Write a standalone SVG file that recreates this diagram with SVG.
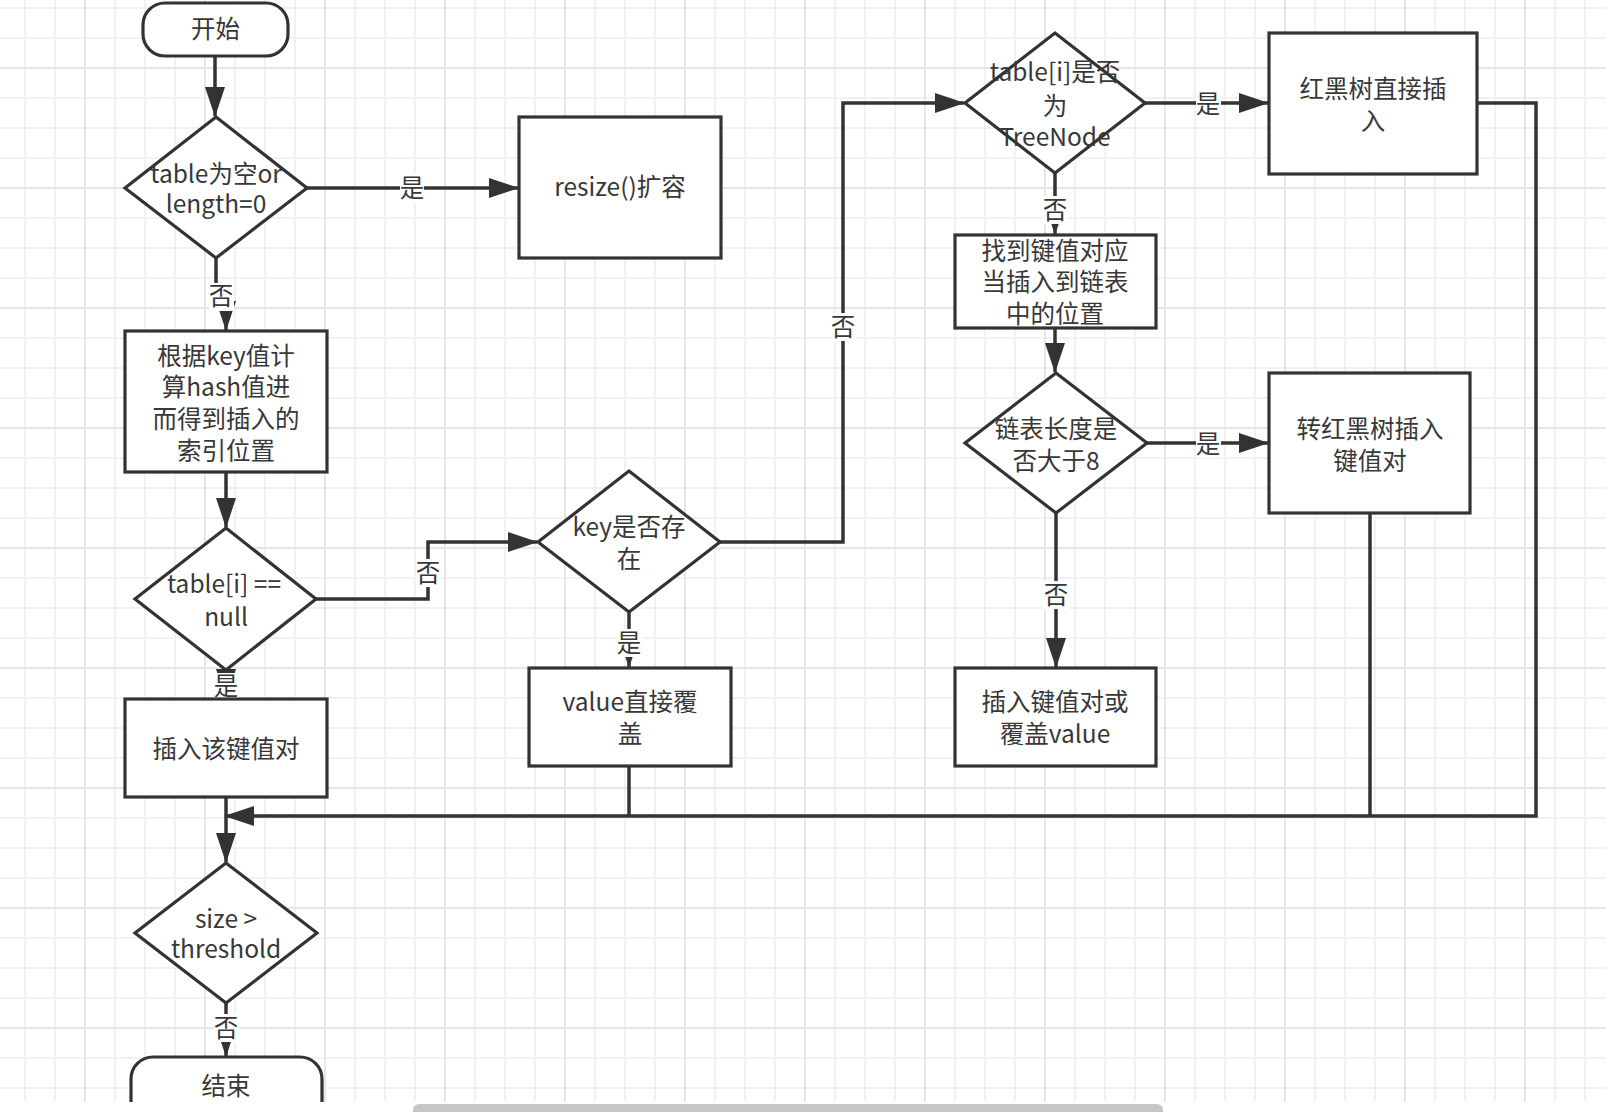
<svg xmlns="http://www.w3.org/2000/svg" width="1606" height="1112" viewBox="0 0 1606 1112">
<style>
.shape{fill:#ffffff;stroke:#333333;stroke-width:3.2;stroke-linejoin:miter}
.conn{fill:none;stroke:#333333;stroke-width:3.5}
.t{font-family:"Noto Sans CJK SC","Noto Sans",sans-serif;font-size:24.5px;fill:#383838;text-anchor:middle;dominant-baseline:central}
.lbg{fill:#ffffff}
</style>
<defs>
<pattern id="gs" patternUnits="userSpaceOnUse" x="10" y="-7" width="30" height="30">
<path d="M15 0V30M0 15H30" stroke="#f1f1f1" stroke-width="2" fill="none"/>
</pattern>
<pattern id="gl" patternUnits="userSpaceOnUse" x="25" y="8" width="120" height="120">
<path d="M60 0V120M0 60H120" stroke="#e6e6e6" stroke-width="2" fill="none"/>
</pattern>
<marker id="ah" markerUnits="userSpaceOnUse" markerWidth="30" markerHeight="22" refX="29" refY="11" orient="auto">
<path d="M0,1 L30,11 L0,21 z" fill="#333333"/>
</marker>
</defs>
<rect x="0" y="0" width="1606" height="1112" fill="#ffffff"/>
<rect x="0" y="0" width="1606" height="1102" fill="url(#gs)"/>
<rect x="0" y="0" width="1606" height="1102" fill="url(#gl)"/>

<g id="connectors">
<path class="conn" d="M215 56V116" marker-end="url(#ah)"/>
<path class="conn" d="M307 188H518" marker-end="url(#ah)"/>
<path class="conn" d="M216 258V297H226V330" marker-end="url(#ah)"/>
<path class="conn" d="M226 472V527" marker-end="url(#ah)"/>
<path class="conn" d="M316 599H428V542H537" marker-end="url(#ah)"/>
<path class="conn" d="M629 612V667" marker-end="url(#ah)"/>
<path class="conn" d="M720 542H843V103H964" marker-end="url(#ah)"/>
<path class="conn" d="M1055 173V234" marker-end="url(#ah)"/>
<path class="conn" d="M1055 328V372" marker-end="url(#ah)"/>
<path class="conn" d="M1056 513V667" marker-end="url(#ah)"/>
<path class="conn" d="M1145 103H1268" marker-end="url(#ah)"/>
<path class="conn" d="M1147 443H1268" marker-end="url(#ah)"/>
<path class="conn" d="M226 670V698" marker-end="url(#ah)"/>
<path class="conn" d="M226 797V862" marker-end="url(#ah)"/>
<path class="conn" d="M629 766V816"/>
<path class="conn" d="M1370 513V816"/>
<path class="conn" d="M1477 103H1536V816H225" marker-end="url(#ah)"/>
<path class="conn" d="M226 1003V1056" marker-end="url(#ah)"/>
<g id="labels">
<rect class="lbg" x="400" y="174" width="24" height="28"/><text class="t" x="412" y="186">是</text>
<rect class="lbg" x="209" y="283" width="25" height="28"/><text class="t" x="221" y="294">否</text>
<rect class="lbg" x="416" y="559" width="25" height="28"/><text class="t" x="428" y="571">否</text>
<rect class="lbg" x="617" y="629" width="25" height="28"/><text class="t" x="629" y="641">是</text>
<rect class="lbg" x="831" y="313" width="25" height="28"/><text class="t" x="843" y="325">否</text>
<rect class="lbg" x="1043" y="196" width="25" height="28"/><text class="t" x="1055" y="208">否</text>
<rect class="lbg" x="1044" y="581" width="25" height="28"/><text class="t" x="1056" y="593">否</text>
<rect class="lbg" x="1196" y="90" width="25" height="28"/><text class="t" x="1208" y="102">是</text>
<rect class="lbg" x="1196" y="430" width="25" height="28"/><text class="t" x="1208" y="442">是</text>
<rect class="lbg" x="214" y="673" width="25" height="26"/><text class="t" x="226" y="684">是</text>
<rect class="lbg" x="214" y="1014" width="25" height="28"/><text class="t" x="226" y="1026">否</text>
</g>
</g>

<g id="start"><rect class="shape" x="143" y="3" width="145" height="53" rx="22"/><text class="t" x="215.5" y="27">开始</text></g>
<g id="d_empty"><polygon class="shape" points="216,117 307,188 216,258 125,188"/><text class="t" x="216" y="172">table为空or</text><text class="t" x="216" y="202">length=0</text></g>
<g id="resize"><rect class="shape" x="519" y="117" width="202" height="141"/><text class="t" x="620" y="185">resize()扩容</text></g>
<g id="hash"><rect class="shape" x="125" y="331" width="202" height="141"/><text class="t" x="226" y="354">根据key值计</text><text class="t" x="226" y="385">算hash值进</text><text class="t" x="226" y="417">而得到插入的</text><text class="t" x="226" y="449">索引位置</text></g>
<g id="d_null"><polygon class="shape" points="226,528 316,599 226,670 135,599"/><text class="t" x="224" y="582">table[i] ==</text><text class="t" x="226" y="615">null</text></g>
<g id="insert_pair"><rect class="shape" x="125" y="699" width="202" height="98"/><text class="t" x="226" y="747">插入该键值对</text></g>
<g id="d_size"><polygon class="shape" points="226,863 317,933 226,1003 135,933"/><text class="t" x="226" y="917">size &gt;</text><text class="t" x="226" y="947">threshold</text></g>
<g id="end"><rect class="shape" x="131" y="1057" width="191" height="70" rx="22"/><text class="t" x="226" y="1084">结束</text></g>
<g id="d_key"><polygon class="shape" points="629,471 720,542 629,612 538,542"/><text class="t" x="629" y="525">key是否存</text><text class="t" x="629" y="557">在</text></g>
<g id="value"><rect class="shape" x="529" y="668" width="202" height="98"/><text class="t" x="630" y="700">value直接覆</text><text class="t" x="630" y="732">盖</text></g>
<g id="d_tree"><polygon class="shape" points="1055,33 1145,103 1055,173 965,103"/><text class="t" x="1055" y="70">table[i]是否</text><text class="t" x="1055" y="104">为</text><text class="t" x="1055" y="135">TreeNode</text></g>
<g id="find"><rect class="shape" x="955" y="235" width="201" height="93"/><text class="t" x="1055" y="249">找到键值对应</text><text class="t" x="1055" y="280">当插入到链表</text><text class="t" x="1055" y="312">中的位置</text></g>
<g id="d_len"><polygon class="shape" points="1056,373 1147,443 1056,513 965,443"/><text class="t" x="1056" y="427">链表长度是</text><text class="t" x="1056" y="459">否大于8</text></g>
<g id="insert_or"><rect class="shape" x="955" y="668" width="201" height="98"/><text class="t" x="1055" y="700">插入键值对或</text><text class="t" x="1055" y="732">覆盖value</text></g>
<g id="rb_insert"><rect class="shape" x="1269" y="33" width="208" height="141"/><text class="t" x="1373" y="87">红黑树直接插</text><text class="t" x="1373" y="119">入</text></g>
<g id="to_rb"><rect class="shape" x="1269" y="373" width="201" height="140"/><text class="t" x="1370" y="427">转红黑树插入</text><text class="t" x="1370" y="459">键值对</text></g>

<rect x="0" y="1102" width="1606" height="10" fill="#ffffff"/>
<rect x="413" y="1104" width="750" height="14" rx="6" fill="#c6c6c6"/>
</svg>
